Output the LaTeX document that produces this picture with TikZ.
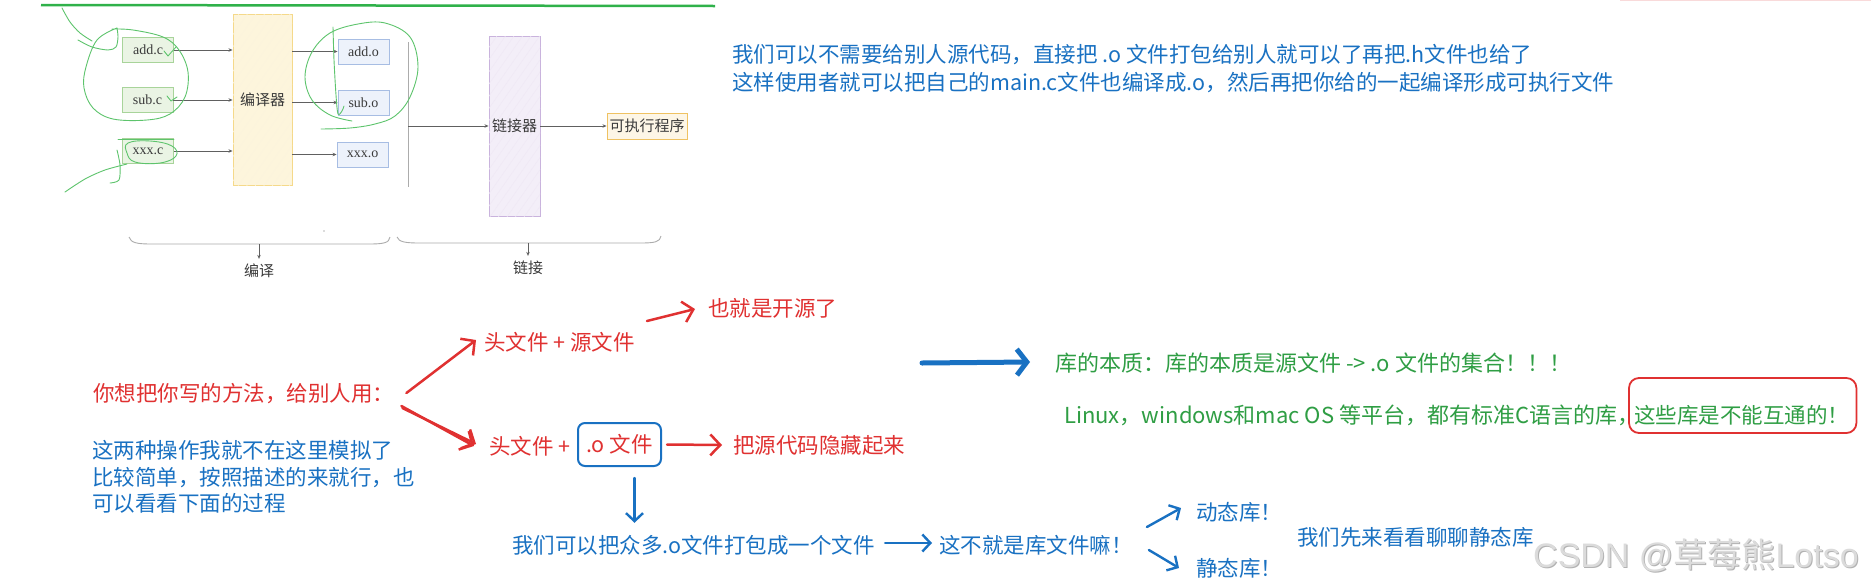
\documentclass[tikz,border=0pt]{standalone}
\usepackage{fontspec}
\setmainfont{Liberation Serif}
\newfontfamily\cjk{Noto Sans CJK SC}
\newfontfamily\wmfont{Liberation Sans}
\usetikzlibrary{arrows.meta,patterns.meta,calc}
\definecolor{hred}{HTML}{E03131}
\definecolor{hblue}{HTML}{1971C2}
\definecolor{hgreen}{HTML}{2F9E44}
\definecolor{pengreen}{HTML}{5DC46C}
\definecolor{topgreen}{HTML}{2FB14A}
\definecolor{gfill}{HTML}{EAF4E4}
\definecolor{gdraw}{HTML}{A8D49A}
\definecolor{yfill}{HTML}{FDF5DC}
\definecolor{ydraw}{HTML}{F5D98A}
\definecolor{bfill}{HTML}{EDF2FB}
\definecolor{bdraw}{HTML}{A7BDE3}
\definecolor{pfill}{HTML}{F3EEF8}
\definecolor{pdraw}{HTML}{C9B3DD}
\definecolor{efill}{HTML}{FDF6E6}
\definecolor{edraw}{HTML}{EFC262}
\definecolor{dtext}{HTML}{3A3A3A}
\tikzset{
  hwf/.style={font=\cjk\fontsize{21.5}{26.5}\selectfont},
  hw/.style={hwf, inner sep=0pt, anchor=west},
  hwr/.style={hw, text=hred},
  hwb/.style={hw, text=hblue},
  hwg/.style={hw, text=hgreen},
  redarr/.style={draw=hred, line width=2.5pt, line cap=round, line join=round, -{Straight Barb[length=10pt,width=21pt]}},
  bluearr/.style={draw=hblue, line width=2.4pt, line cap=round, line join=round, -{Straight Barb[length=8pt,width=17pt]}},
  bigarr/.style={draw=hblue, line width=5pt, line cap=round, line join=round, -{Straight Barb[length=10pt,width=26pt]}},
  filebox/.style={line width=0.9pt, minimum width=51pt, minimum height=25pt, inner sep=0pt, text=dtext, font=\fontsize{14}{14}\selectfont},
  cbox/.style={filebox, draw=gdraw, fill=gfill},
  obj/.style={filebox, draw=bdraw, fill=bfill},
  tall/.style={line width=0.9pt, inner sep=0pt, text=dtext, font=\cjk\fontsize{15}{15}\selectfont},
  garr/.style={draw=gray!75!black, line width=0.7pt, -{Stealth[length=4pt,width=3.5pt]}},
  gline/.style={draw=gray!65, line width=0.9pt},
  lbl/.style={text=dtext, font=\cjk\fontsize{15}{15}\selectfont, inner sep=0pt},
  pen/.style={draw=pengreen, line width=0.9pt, line cap=round, line join=round},
}
\begin{document}
\begin{tikzpicture}[x=1pt,y=-1pt]
\fill[white] (0,0) rectangle (1871,587);
\useasboundingbox (0,0) rectangle (1871,587);

% top strokes
\draw[topgreen, line width=2.5pt] (41,5) -- (715,6);
\draw[hred!18, line width=1pt] (1620,0.5) -- (1871,0.5);

% ---------- compile / link diagram ----------
\node[cbox] (addc) at (148,50) {add.c};
\node[cbox] (subc) at (147.5,100) {sub.c};
\node[cbox] (xxxc) at (148,151) {xxx.c};
\node[tall, draw=ydraw, fill=yfill, minimum width=59pt, minimum height=171pt,
  postaction={pattern={Lines[angle=55,distance=7pt,line width=0.5pt]}, pattern color=ydraw!30}] (comp) at (262.5,99.5) {编译器};
\node[obj] (addo) at (363.5,51.5) {add.o};
\node[obj] (subo) at (363.5,102.5) {sub.o};
\node[obj] (xxxo) at (362.5,154.5) {xxx.o};
\node[tall, draw=pdraw, fill=pfill, minimum width=51pt, minimum height=180pt,
  postaction={pattern={Lines[angle=55,distance=7pt,line width=0.5pt]}, pattern color=pdraw!30}] (link) at (514.5,126) {链接器};
\node[tall, draw=edraw, fill=efill, minimum width=80pt, minimum height=26pt] (exe) at (647,126) {可执行程序};

\coordinate (barT) at (408,42);
\coordinate (barB) at (408,187);
\coordinate (barM) at (408,126);
\draw[gline] (barT) -- (barB);

\draw[garr] (addc.east) -- (addc.east -| comp.west);
\draw[garr] (subc.east) -- (subc.east -| comp.west);
\draw[garr] (xxxc.east) -- (xxxc.east -| comp.west);
\draw[garr] (comp.east |- addo.west) -- (addo.west);
\draw[garr] (comp.east |- subo.west) -- (subo.west);
\draw[garr] (comp.east |- xxxo.west) -- (xxxo.west);
\draw[garr] (barM) -- (barM -| link.west);
\draw[garr] (link.east) -- (exe.west);

% braces
\node[lbl] (lblc) at (259,271) {编译};
\node[lbl] (lbll) at (528,268) {链接};
\coordinate (b1M) at (259,244);
\coordinate (b2M) at (528,243);
\draw[gline] (129,237) .. controls (131,243) and (137,244) .. (152,244) -- (368,244) .. controls (384,244) and (389,243) .. (390,237);
\draw[gline] (397,237) .. controls (399,242) and (405,243) .. (420,243) -- (640,243) .. controls (655,243) and (660,242) .. (661,236);
\draw[garr] (b1M) -- ($(lblc.north)+(0,-5)$);
\draw[garr] (b2M) -- ($(lbll.north)+(0,-5)$);
\fill[gray!55] (324,231) circle (0.9);

% green pen annotations
\draw[pen] plot[smooth] coordinates {(62,8) (70,22) (80,33) (92,41)};
\draw[pen] plot[smooth] coordinates {(78,40) (92,47) (108,50) (116,47) (118,37) (117,28)};
\draw[pen] plot[smooth, tension=0.6] coordinates {(117,28) (97,40) (86,67) (84,88) (93,108) (113,119) (147,120) (170,114) (185,97) (188,72) (179,50) (163,37) (133,30) (112,29)};
\draw[pen] (164,51) -- (168,56) -- (176,47);
\draw[pen] (167,96) -- (171,101) -- (177,97);
\draw[pen] (118,139) -- (174,139);
\draw[pen] plot[smooth cycle, tension=0.7] coordinates {(128,143) (150,141) (172,146) (176,156) (160,163) (135,162) (127,153)};
\draw[pen] plot[smooth] coordinates {(117,150) (120,165) (119,180) (110,183)};
\draw[pen] plot[smooth] coordinates {(65,192) (85,179) (105,170) (127,164)};
\draw[pen] plot[smooth, tension=0.6] coordinates {(321,129) (350,128) (375,124) (395,116) (410,97) (418,67) (410,37) (385,23) (358,24) (330,33) (312,52) (305,77) (312,100) (330,115) (352,121)};
\draw[pen] plot[smooth] coordinates {(333,27) (334,60) (336,95) (338,114) (342,111) (344,106)};

% ---------- notes ----------
\node[hwb] (top1) at (732,55) {我们可以不需要给别人源代码，直接把 .o 文件打包给别人就可以了再把.h文件也给了};
\node[hwb] (top2) at (732,83) {这样使用者就可以把自己的main.c文件也编译成.o，然后再把你给的一起编译形成可执行文件};

\node[hwr] (want) at (93,394) {你想把你写的方法，给别人用：};
\node[hwb, align=left] (two) at (92,477) {这两种操作我就不在这里模拟了\\比较简单，按照描述的来就行，也\\可以看看下面的过程};
\node[hwr] (src) at (484,342) {头文件 + 源文件};
\node[hwr] (open) at (708,308) {也就是开源了};
\node[hwr] (hdr) at (489,446) {头文件 +};
\node[hwf, text=hred, draw=hblue, line width=2pt, rounded corners=7pt, minimum width=83pt, minimum height=43pt, inner sep=0pt] (obox) at (619.5,444.5) {.o 文件};
\node[hwr] (hide) at (733,445) {把源代码隐藏起来};
\node[hwb] (pack) at (512,545) {我们可以把众多.o文件打包成一个文件};
\node[hwb] (lib) at (939,545) {这不就是库文件嘛！};
\node[hwb] (dyn) at (1196,512) {动态库！};
\node[hwb] (stat) at (1196,568) {静态库！};
\node[hwb] (talk) at (1297,537) {我们先来看看聊聊静态库};
\node[hwg, font=\cjk\fontsize{22}{26.5}\selectfont] (essence) at (1055,363) {库的本质：库的本质是源文件 -> .o 文件的集合！！！};
\node[hwg, font=\cjk\fontsize{22}{26.5}\selectfont] (platform) at (1064,415) {Linux，windows和mac OS 等平台，都有标准C语言的库，};
\node[hwg] (noshare) at (1634,415) {这些库是不能互通的！};
\draw[hred, line width=1.8pt, rounded corners=10pt] ($(noshare.west)+(-5,-37)$) rectangle ($(noshare.east)+(7,18)$);

\draw[redarr] ($(want.east)+(12,-1)$) -- ($(src.west)+(-8,-2)$);
\draw[redarr] ($(want.east)+(8,14)$) -- ($(hdr.west)+(-13,-2)$);
\draw[redarr] ($(want.east)+(7,12)$) -- ($(hdr.west)+(-15,0)$);
\draw[redarr] ($(src.east)+(12,-21)$) -- ($(open.west)+(-13,1)$);
\draw[redarr] ($(obox.east)+(5,0)$) -- ($(hide.west)+(-11,0)$);
\draw[bluearr] ($(obox.south)+(15,11)$) -- ($(obox.south |- pack.north)+(15,-12)$);
\draw[bluearr] ($(pack.east)+(10,-2)$) -- ($(lib.west)+(-7,-2)$);
\draw[bluearr] ($(lib.east)+(14,-18)$) -- ($(dyn.west)+(-15,-4)$);
\draw[bluearr] ($(lib.east)+(16,5)$) -- ($(stat.west)+(-17,0)$);
\coordinate (bigS) at (922,363);
\draw[bigarr] (bigS) -- ($(essence.west)+(-25,-1)$);

% watermark
\node[inner sep=0pt, anchor=west, text=gray!60, font=\wmfont\fontsize{34}{34}\selectfont] at (1534,556) {CSDN @{\cjk 草莓熊}Lotso};
\node[inner sep=0pt, anchor=west, text=gray!28, font=\wmfont\fontsize{34}{34}\selectfont] (wm) at (1533,555) {CSDN @{\cjk 草莓熊}Lotso};
\end{tikzpicture}
\end{document}
